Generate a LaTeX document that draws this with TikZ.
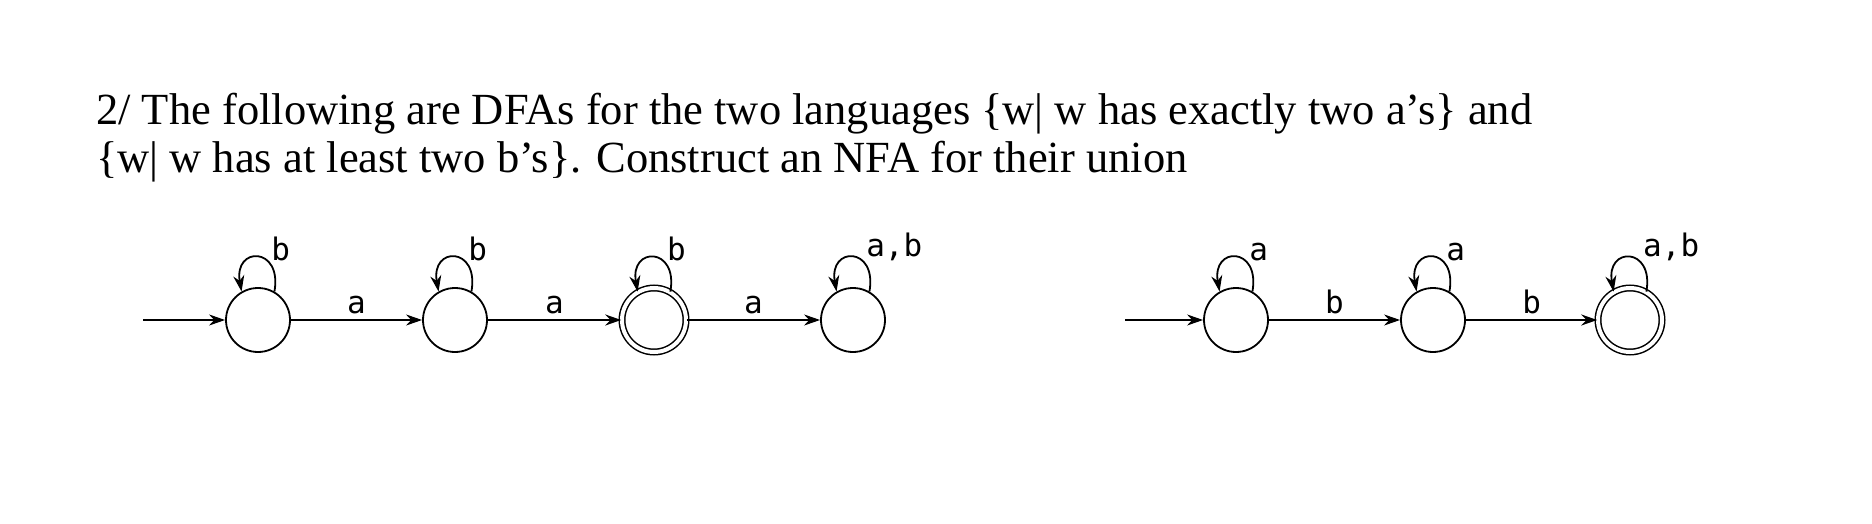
\documentclass[tikz,border=0pt]{standalone}
\usepackage{fontspec}
\setmainfont{Liberation Serif}
\newfontfamily\lbl{DejaVu Sans Mono}
\usetikzlibrary{arrows.meta}
\begin{document}
\begin{tikzpicture}[x=1pt,y=-1pt,
  st/.style={circle,draw,line width=1.8pt,minimum size=64pt,inner sep=0pt},
  acc/.style={st,double,double distance=4pt,line width=1.5pt},
  tr/.style={-{Stealth[length=16pt,width=11pt]},line width=1.8pt},
  lb/.style={font=\lbl\fontsize{31}{33}\selectfont},
  lpp/.style={out=80,in=100,looseness=3.6}]
\useasboundingbox (0,0) rectangle (1872,524);
\node[anchor=base west,font=\fontsize{44.5}{50}\selectfont,inner sep=0pt] (t1) at (96,125) {2/ The following are DFAs for the two languages \{w|\ w has exactly two a’s\} and};
\node[anchor=base west,font=\fontsize{44.5}{50}\selectfont,inner sep=0pt] (t2) at (96,172) {\{w|\ w has at least two b’s\}. Construct an NFA for their union};
\node[st] (p1) at (258,320) {};
\node[st] (p2) at (455,320) {};
\node[acc] (p3) at (654,320) {};
\node[st] (p4) at (853,320) {};
\coordinate (s1) at (143,320);
\draw[tr] (s1) -- (p1);
\draw[tr] (p1) -- node[lb,above=2pt]{a} (p2);
\draw[tr] (p2) -- node[lb,above=2pt]{a} (p3);
\draw[tr] (p3) -- node[lb,above=2pt]{a} (p4);
\draw[tr] (p1.60) to[lpp] node[lb,above right,pos=0.3,inner sep=1pt]{b} (p1.120);
\draw[tr] (p2.60) to[lpp] node[lb,above right,pos=0.3,inner sep=1pt]{b} (p2.120);
\draw[tr] (p3.60) to[lpp] node[lb,above right,pos=0.3,inner sep=1pt]{b} (p3.120);
\draw[tr] (p4.60) to[lpp] node[lb,above right,pos=0.3,inner sep=1pt]{a,b} (p4.120);
\node[st] (q1) at (1236,320) {};
\node[st] (q2) at (1433,320) {};
\node[acc] (q3) at (1630,320) {};
\coordinate (s2) at (1125,320);
\draw[tr] (s2) -- (q1);
\draw[tr] (q1) -- node[lb,above=2pt]{b} (q2);
\draw[tr] (q2) -- node[lb,above=2pt]{b} (q3);
\draw[tr] (q1.60) to[lpp] node[lb,above right,pos=0.3,inner sep=1pt]{a} (q1.120);
\draw[tr] (q2.60) to[lpp] node[lb,above right,pos=0.3,inner sep=1pt]{a} (q2.120);
\draw[tr] (q3.60) to[lpp] node[lb,above right,pos=0.3,inner sep=1pt]{a,b} (q3.120);
\end{tikzpicture}
\end{document}
